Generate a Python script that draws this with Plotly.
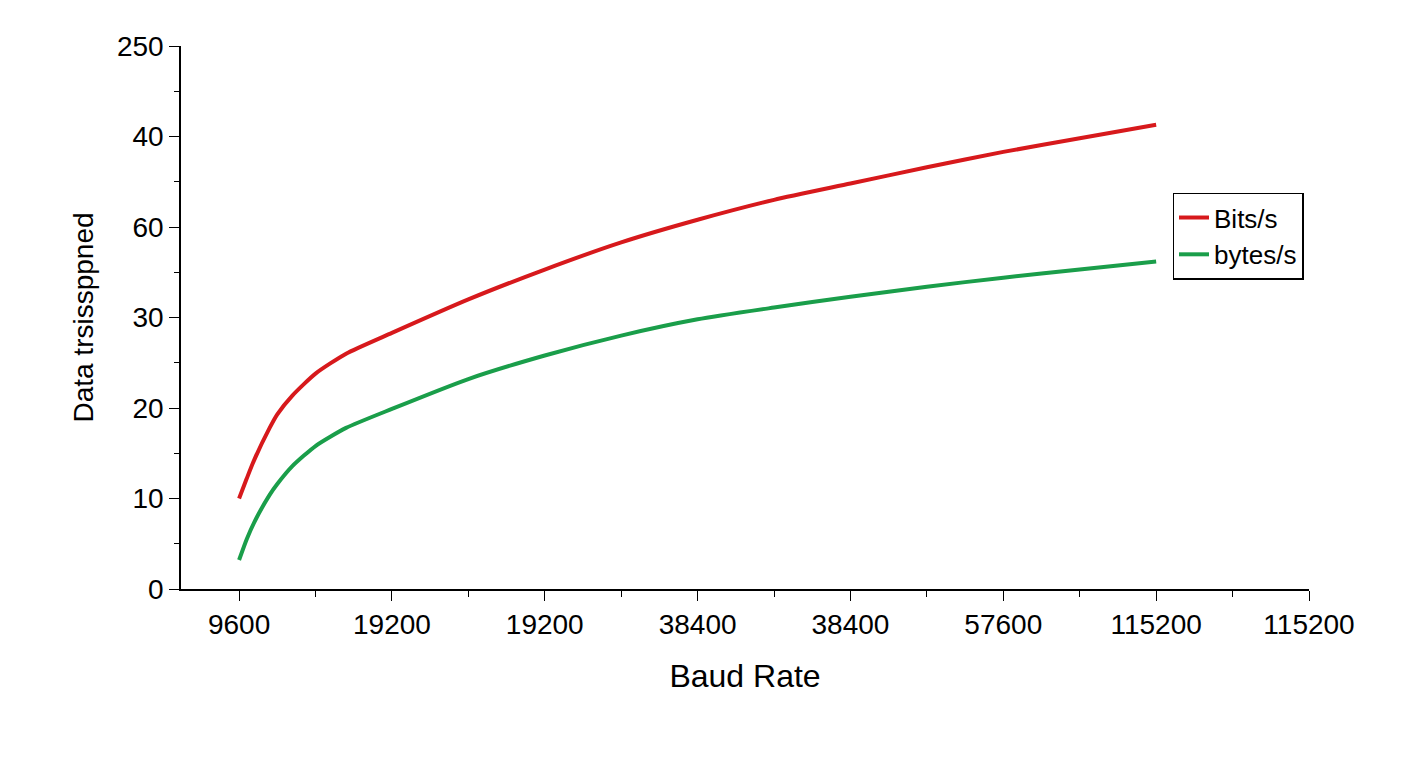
import plotly.graph_objects as go

x_tick_pos = [0, 1, 2, 3, 4, 5, 6, 7]
x_tick_labels = ["9600", "19200", "19200", "38400", "38400", "57600", "115200", "115200"]
y_tick_pos = [0, 1, 2, 3, 4, 5, 6]
y_tick_labels = ["0", "10", "20", "30", "60", "40", "250"]

x_pts = [0, 0.05, 0.1, 0.2, 0.25, 0.35, 0.5, 0.7, 1, 1.5, 2, 2.5, 3, 3.5, 4, 4.5, 5, 5.5, 6]
bits = [1.0, 1.22, 1.43, 1.78, 1.93, 2.14, 2.38, 2.60, 2.83, 3.20, 3.53, 3.83, 4.08, 4.30, 4.48, 4.66, 4.83, 4.98, 5.13]
bytes_ = [0.32, 0.55, 0.74, 1.04, 1.16, 1.36, 1.58, 1.78, 1.99, 2.32, 2.58, 2.80, 2.98, 3.11, 3.23, 3.34, 3.44, 3.53, 3.62]

fig = go.Figure()
fig.add_trace(go.Scatter(x=x_pts, y=bits, mode="lines", name="Bits/s",
                         line=dict(color="#d7191c", width=4, shape="spline", smoothing=0.6)))
fig.add_trace(go.Scatter(x=x_pts, y=bytes_, mode="lines", name="bytes/s",
                         line=dict(color="#1a9e4a", width=4, shape="spline", smoothing=0.6)))

fig.update_layout(
    width=1408, height=768, paper_bgcolor="white", plot_bgcolor="white",
    margin=dict(l=173, r=107, t=38, b=187),
    font=dict(family="Liberation Sans, Arial", color="black", size=28),
    showlegend=True,
    legend=dict(x=0.879, y=0.73, xanchor="left", yanchor="top",
                bordercolor="black", borderwidth=1.5, bgcolor="white",
                font=dict(size=26)),
    xaxis=dict(range=[-0.38, 7], tickvals=x_tick_pos, ticktext=x_tick_labels,
               showgrid=False, zeroline=False, showline=True, linecolor="black",
               linewidth=1.5, ticks="outside", ticklen=10, tickcolor="black",
               automargin=False,
               minor=dict(tickvals=[0.5, 1.5, 2.5, 3.5, 4.5, 5.5, 6.5], ticks="outside",
                          ticklen=6, tickcolor="black"),
               title=dict(text="Baud Rate", font=dict(size=32), standoff=25),
               tickfont=dict(size=28)),
    yaxis=dict(range=[0, 6], tickvals=y_tick_pos, ticktext=y_tick_labels,
               showgrid=False, zeroline=False, showline=True, linecolor="black",
               linewidth=1.5, ticks="outside", ticklen=10, tickcolor="black",
               automargin=False,
               minor=dict(dtick=0.5, ticks="outside", ticklen=5, tickcolor="black"),
               title=dict(text="Data trsissppned", font=dict(size=28), standoff=15),
               tickfont=dict(size=28)),
)
fig.write_html("out.html")
